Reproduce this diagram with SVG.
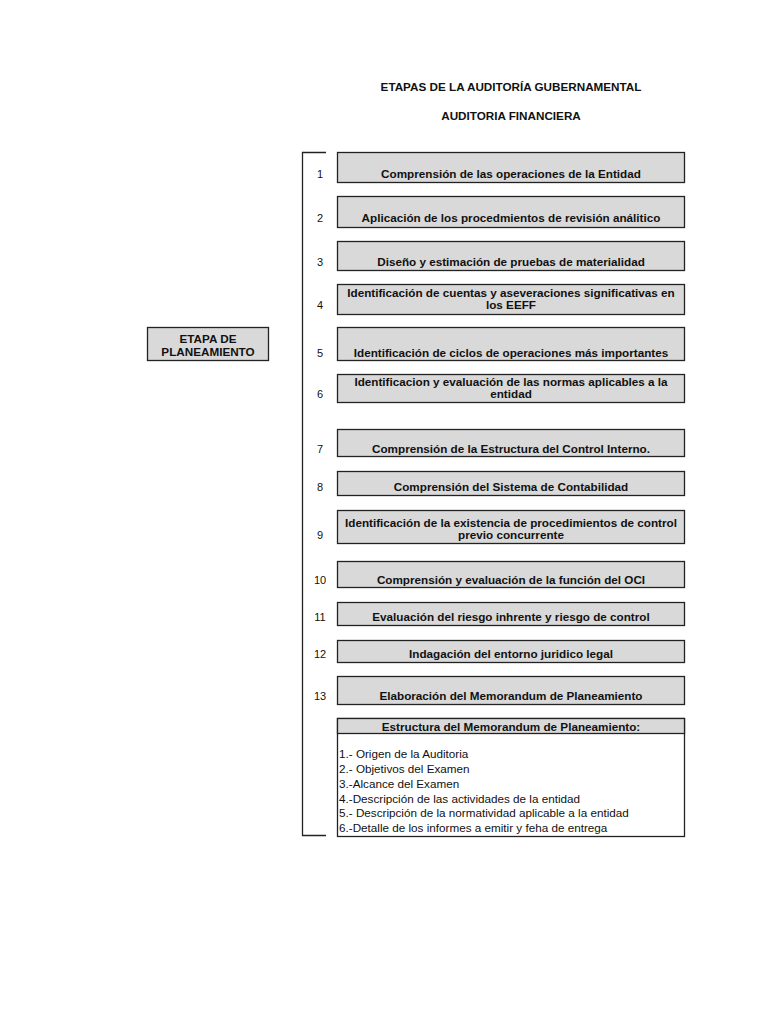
<svg xmlns="http://www.w3.org/2000/svg" width="768" height="1024" viewBox="0 0 768 1024">
<style>
text{font-family:"Liberation Sans",Arial,sans-serif;fill:#111}
.t{font-size:11.7px;font-weight:bold;text-anchor:middle}
.n{font-size:11px;text-anchor:middle}
.l{font-size:11.7px}
.box{fill:#d9d9d9;stroke:#222;stroke-width:1.3}
.br{fill:none;stroke:#222;stroke-width:1.3}
</style>
<rect width="768" height="1024" fill="#fff"/>
<text class="t" x="511" y="91">ETAPAS DE LA AUDITORÍA GUBERNAMENTAL</text>
<text class="t" x="511" y="120">AUDITORIA FINANCIERA</text>
<g id="connectors">
<path class="br" d="M326 152.5H302.5V835.5H326"/>
</g>
<g id="etapa">
<rect class="box" x="147.5" y="327.5" width="121" height="33"/>
<text class="t" x="208" y="343">ETAPA DE</text>
<text class="t" x="208" y="356">PLANEAMIENTO</text>
</g>
<g id="s1"><rect class="box" x="337.5" y="152.5" width="347" height="30"/><text class="n" x="320" y="178">1</text><text class="t" x="511" y="178">Comprensión de las operaciones de la Entidad</text></g>
<g id="s2"><rect class="box" x="337.5" y="196.5" width="347" height="31"/><text class="n" x="320" y="222">2</text><text class="t" x="511" y="222">Aplicación de los procedmientos de revisión análitico</text></g>
<g id="s3"><rect class="box" x="337.5" y="241.5" width="347" height="29"/><text class="n" x="320" y="266">3</text><text class="t" x="511" y="266">Diseño y estimación de pruebas de materialidad</text></g>
<g id="s4"><rect class="box" x="337.5" y="284.5" width="347" height="30"/><text class="n" x="320" y="309">4</text><text class="t" x="511" y="297">Identificación de cuentas y aseveraciones significativas en</text><text class="t" x="511" y="309">los EEFF</text></g>
<g id="s5"><rect class="box" x="337.5" y="327.5" width="347" height="33"/><text class="n" x="320" y="357">5</text><text class="t" x="511" y="357">Identificación de ciclos de operaciones más importantes</text></g>
<g id="s6"><rect class="box" x="337.5" y="374.5" width="347" height="28"/><text class="n" x="320" y="398">6</text><text class="t" x="511" y="386">Identificacion y evaluación de las normas aplicables a la</text><text class="t" x="511" y="398">entidad</text></g>
<g id="s7"><rect class="box" x="337.5" y="429.5" width="347" height="27"/><text class="n" x="320" y="453">7</text><text class="t" x="511" y="453">Comprensión de la Estructura del Control Interno.</text></g>
<g id="s8"><rect class="box" x="337.5" y="471.5" width="347" height="24"/><text class="n" x="320" y="491">8</text><text class="t" x="511" y="491">Comprensión del Sistema de Contabilidad</text></g>
<g id="s9"><rect class="box" x="337.5" y="510.5" width="347" height="33"/><text class="n" x="320" y="539">9</text><text class="t" x="511" y="527">Identificación de la existencia de procedimientos de control</text><text class="t" x="511" y="539">previo concurrente</text></g>
<g id="s10"><rect class="box" x="337.5" y="561.5" width="347" height="26"/><text class="n" x="320" y="584">10</text><text class="t" x="511" y="584">Comprensión y evaluación de la función del OCI</text></g>
<g id="s11"><rect class="box" x="337.5" y="602.5" width="347" height="23"/><text class="n" x="320" y="621">11</text><text class="t" x="511" y="621">Evaluación del riesgo inhrente y riesgo de control</text></g>
<g id="s12"><rect class="box" x="337.5" y="640.5" width="347" height="22"/><text class="n" x="320" y="658">12</text><text class="t" x="511" y="658">Indagación del entorno juridico legal</text></g>
<g id="s13"><rect class="box" x="337.5" y="676.5" width="347" height="28"/><text class="n" x="320" y="700">13</text><text class="t" x="511" y="700">Elaboración del Memorandum de Planeamiento</text></g>
<g id="memo">
<rect x="337.5" y="718.5" width="347" height="118" fill="#fff" stroke="#222" stroke-width="1.3"/>
<rect x="337.5" y="718.5" width="347" height="15" fill="#d9d9d9" stroke="#222" stroke-width="1.3"/>
<text class="t" x="511" y="731">Estructura del Memorandum de Planeamiento:</text>
<text class="l" x="339" y="758">1.- Origen de la Auditoria</text>
<text class="l" x="339" y="773">2.- Objetivos del Examen</text>
<text class="l" x="339" y="788">3.-Alcance del Examen</text>
<text class="l" x="339" y="803">4.-Descripción de las actividades de la entidad</text>
<text class="l" x="339" y="817">5.- Descripción de la normatividad aplicable a la entidad</text>
<text class="l" x="339" y="832">6.-Detalle de los informes a emitir y feha de entrega</text>
</g>
</svg>
